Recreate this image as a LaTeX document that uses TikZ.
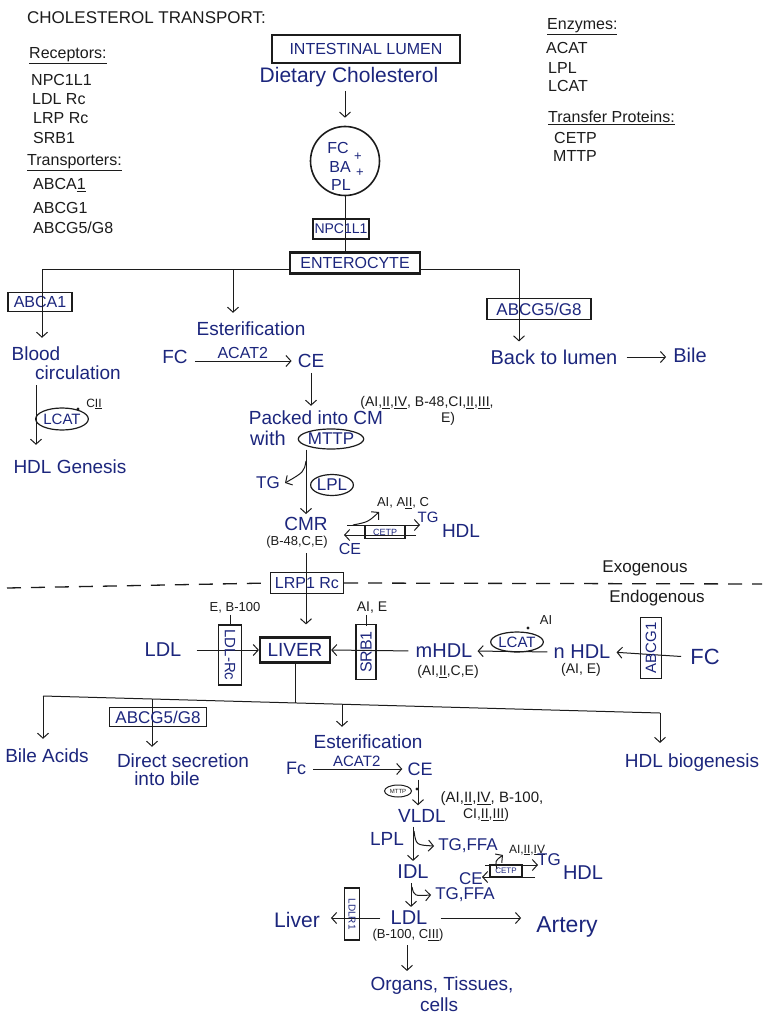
\documentclass[tikz,border=0pt]{standalone}
\usepackage{fontspec}
\setmainfont{Liberation Sans}
\usetikzlibrary{arrows.meta,shapes.geometric,calc}
\definecolor{ink}{RGB}{28,38,125}
\definecolor{pen}{RGB}{28,28,28}
\newcommand\myfs[1]{\fontsize{#1}{#1}\selectfont}
\newcommand\rn[1]{\underline{#1}}
\tikzset{
 bl/.style={text=ink, font=\myfs{19}, inner sep=1pt},
 bk/.style={text=pen, font=\myfs{15}, inner sep=1pt},
 sm/.style={text=pen, font=\myfs{13}, inner sep=1pt},
 lg/.style={text=pen, font=\myfs{16}, inner sep=1pt, anchor=west},
 bx/.style={rectangle, draw=pen, line width=1.1pt, text=ink, font=\myfs{15}, inner sep=1pt},
 tbx/.style={bx, line width=2.2pt},
 el/.style={ellipse, draw=pen, line width=1.2pt, text=ink, font=\myfs{15}, inner sep=0pt},
 ln/.style={draw=pen, line width=1pt},
 ar/.style={ln, -{Straight Barb[length=5pt,width=11pt]}},
 dashln/.style={draw=pen, line width=1.3pt, dash pattern=on 14pt off 10pt},
}
\begin{document}
\begin{tikzpicture}[x=1pt,y=-1pt]
\fill[white] (0,0) rectangle (768,1024);
\useasboundingbox (0,0) rectangle (768,1024);

% ---------- legend ----------
\node[lg, font=\myfs{17}] (title) at (26,18) {CHOLESTEROL TRANSPORT:};
\node[lg] (rec) at (28,56) {\underline{Receptors:}};
\node[lg] (r1) at (30,80) {NPC1L1};
\node[lg] (r2) at (31,99) {LDL Rc};
\node[lg] (r3) at (32,118) {LRP Rc};
\node[lg] (r4) at (32,138) {SRB1};
\node[lg] (tr) at (26,163) {\underline{Transporters:}};
\node[lg] (t1) at (32,185) {ABCA\underline{1}};
\node[lg] (t2) at (32,208) {ABCG1};
\node[lg] (t3) at (32,228) {ABCG5/G8};
\node[lg] (enz) at (546,27) {\underline{Enzymes:}};
\node[lg] (e1) at (545,48) {ACAT};
\node[lg] (e2) at (547,68) {LPL};
\node[lg] (e3) at (547,86) {LCAT};
\node[lg] (tp) at (547,118) {\underline{Transfer Proteins:}};
\node[lg] (p1) at (553,138) {CETP};
\node[lg] (p2) at (552,156) {MTTP};

% ---------- intestine ----------
\node[tbx, minimum width=188pt, minimum height=28pt, font=\myfs{16}] (lumen) at (366,49) {INTESTINAL LUMEN};
\node[bl, font=\myfs{21}] (diet) at (349,77) {Dietary Cholesterol};
\node[circle, draw=pen, line width=1.6pt, minimum size=69pt, inner sep=0pt] (bolus) at (345,161) {};
\node[bl, font=\myfs{16}] (fc0) at (338,148) {FC};
\node[bl, font=\myfs{16}] (ba0) at (340,167) {BA};
\node[bl, font=\myfs{16}] (pl0) at (341,185) {PL};
\node[bl, font=\myfs{13}] (plus1) at (358,157) {+};
\node[bl, font=\myfs{13}] (plus2) at (360,173) {+};
\node[tbx, minimum width=130pt, minimum height=21pt, font=\myfs{16}] (ent) at (355,263) {ENTEROCYTE};
\coordinate (bL) at (42,269);
\coordinate (bM) at (233,269);
\coordinate (bR) at (519,269);

\draw[ar, shorten <=3pt, shorten >=8pt] (diet.south -| bolus.north) -- (bolus.north);
\draw[ln] (bolus.south) -- (bolus.south |- ent.north);
\node[bx, minimum width=56pt, minimum height=20pt, font=\myfs{14}] (npc) at (341,229) {NPC1L1};
\draw[ln] (ent.west |- bL) -- (bL);
\draw[ln] (ent.east |- bR) -- (bR);

% ---------- left branch ----------
\node[bl] (blood) at (36,354) {Blood};
\node[bl] (circul) at (78,373) {circulation};
\node[bx, minimum width=64pt, minimum height=19pt, font=\myfs{16}] (abca1) at (40,302) {ABCA1};
\draw[ar, shorten >=8pt] (bL) -- (bL |- blood.north);
\node[bl] (hdlg) at (70,467) {HDL Genesis};
\node[el, minimum width=49pt, minimum height=22pt] (lcat1) at (62,419) {LCAT};
\node[sm, font=\myfs{12}] (cii) at (94,404) {C\rn{II}};
\fill[pen] (78,409) circle (1.7pt);
\draw[ar, shorten <=4pt, shorten >=14pt] (blood.south |- circul.south) -- (blood.south |- hdlg.north);

% ---------- right branch (enterocyte) ----------
\node[bx, minimum width=104pt, minimum height=21pt, font=\myfs{17}] (abcg58a) at (539,309) {ABCG5/G8};
\node[bl, font=\myfs{20}] (back) at (554,357) {Back to lumen};
\draw[ar, shorten >=7pt] (bR) -- (bR |- back.north);
\node[bl, font=\myfs{20}] (bile1) at (690,355) {Bile};
\draw[ar, shorten <=8pt, shorten >=6pt] (back.east) -- (bile1.west |- back.east);

% ---------- middle branch ----------
\node[bl] (est1) at (251,329) {Esterification};
\draw[ar, shorten >=8pt] (bM) -- (bM |- est1.north);
\node[bl] (fc1) at (175,357) {FC};
\node[bl] (ce1) at (311,361) {CE};
\draw[ar, shorten <=6pt, shorten >=5pt] (fc1.east |- ce1.west) -- (ce1.west)
  node[midway, above, bl, font=\myfs{16}, inner sep=2pt] (acat2a) {ACAT2};
\node[bl, font=\myfs{19}] (pk) at (316,418) {Packed into CM};
\draw[ar, shorten <=4pt, shorten >=4pt] (ce1.south) -- (ce1.south |- pk.north);
\node[bl, font=\myfs{20}] (with) at (268,438) {with};
\node[el, minimum width=62pt, minimum height=20pt, font=\myfs{17}] (mttp1) at (331,439) {MTTP};
\node[sm, font=\myfs{14}] (apo1) at (427,403) {(AI,\rn{II},\rn{IV}, B-48,CI,\rn{II},\rn{III},};
\node[sm, font=\myfs{14}] (apo1b) at (448,419) {E)};

\node[bl] (cmr) at (306,524) {CMR};
\node[sm] (cmrapo) at (297,542) {(B-48,C,E)};
\draw[ar, shorten >=2pt] (mttp1.south -| cmr.north) -- (cmr.north);
\node[bl, font=\myfs{17}] (tg1) at (268,483) {TG};
\coordinate (tgb) at (306,461);
\draw[ar] (tgb) .. controls (304,472) .. ([xshift=4pt]tg1.east);
\node[el, minimum width=38pt, minimum height=21pt, font=\myfs{17}] (lpl1) at (332,485) {LPL};

% CETP exchange (chylomicron remnant)
\node[bx, minimum width=40pt, minimum height=13pt, font=\myfs{9}] (cetp1) at (385,532) {CETP};
\coordinate (c1ta) at (347,525);
\coordinate (c1tb) at (420,525);
\coordinate (c1ba) at (416,535);
\coordinate (c1bb) at (344,535);
\coordinate (c1up) at (379,512);
\draw[ar] (c1ta) -- (c1tb);
\draw[ar] (c1ba) -- (c1bb);
\draw[ar] (353,525) .. controls (368,522) .. (c1up);
\node[sm] (aac) at (403,503) {AI, A\rn{II}, C};
\node[bl, font=\myfs{15}] (tg2) at (428,517) {TG};
\node[bl, font=\myfs{16}] (ce2) at (350,549) {CE};
\node[bl] (hdl1) at (461,531) {HDL};

% ---------- exogenous / endogenous divide ----------
\node[bx, minimum width=73pt, minimum height=21pt, font=\myfs{16}] (lrp) at (307,583) {LRP1 Rc};
\draw[dashln] (7,588) -- (lrp.west);
\draw[dashln] (lrp.east) -- (762,584);
\node[bk, font=\myfs{17}] (exo) at (645,568) {Exogenous};
\node[bk, font=\myfs{17}] (endo) at (657,598) {Endogenous};

% ---------- liver ----------
\node[tbx, minimum width=70pt, minimum height=25pt, font=\myfs{19}] (liver) at (295,650) {LIVER};
\draw[ar, shorten <=4pt, shorten >=12pt] (cmrapo.south -| cmr.north) -- (cmr.north |- liver.north);

\node[bl, font=\myfs{20}] (ldl1) at (163,650) {LDL};
\draw[ar, shorten <=14pt] (ldl1.east) -- (liver.west);
\node[bx, rotate=-90, minimum width=60pt, minimum height=23pt, font=\myfs{15}] (ldlrc) at (230,655) {LDL-Rc};
\node[sm] (eb) at (235,608) {E, B-100};
\draw[ln, line width=0.8pt] (eb.south -| ldlrc.center) -- ++(0,11);

\node[bl, font=\myfs{20}] (mhdl) at (444,651) {mHDL};
\node[sm, font=\myfs{14}] (mhdlapo) at (448,672) {(AI,\rn{II},C,E)};
\draw[ar, shorten <=6pt] (mhdl.west) -- (liver.east);
\node[bx, rotate=90, minimum width=55pt, minimum height=20pt, font=\myfs{16}] (srb1) at (366,652) {SRB1};
\node[sm, font=\myfs{14}] (aie) at (372,608) {AI, E};
\draw[ln, line width=0.8pt] (aie.south -| srb1.center) -- ++(0,11);

\node[bl, font=\myfs{20}] (nhdl) at (582,652) {n HDL};
\node[sm, font=\myfs{14}] (nhdlapo) at (581,670) {(AI, E)};
\draw[ar, shorten <=5pt, shorten >=4pt] (nhdl.west) -- (mhdl.east);
\node[el, minimum width=48pt, minimum height=20pt, font=\myfs{15}] (lcat2) at (517,642) {LCAT};
\fill[pen] (528,628) circle (1.7pt);
\node[sm] (ai2) at (546,620) {AI};

\node[bl, font=\myfs{22}] (fc3) at (705,657) {FC};
\draw[ar, shorten <=8pt, shorten >=5pt] (fc3.west) -- (nhdl.east);
\node[bx, rotate=90, minimum width=61pt, minimum height=21pt, font=\myfs{15}] (abcg1) at (651,648) {ABCG1};

% ---------- hepatic branches ----------
\coordinate (hL) at (43,696);
\coordinate (hR) at (660,713);
\coordinate (h2) at (152,699);
\coordinate (h3) at (342,704);
\draw[ln] (liver.south) -- (liver.south |- 0,703);
\draw[ln] (hL) -- (hR);

\node[bl, font=\myfs{19}] (bile) at (47,756) {Bile Acids};
\draw[ar, shorten >=9pt] (hL) -- (hL |- bile.north);

\node[bl, font=\myfs{19}] (ds) at (183,761) {Direct secretion};
\node[bl, font=\myfs{19}] (ib) at (167,779) {into bile};
\draw[ar, shorten >=6pt] (h2) -- (h2 |- ds.north);
\node[bx, minimum width=97pt, minimum height=19pt, font=\myfs{17}] (abcg58b) at (158,717) {ABCG5/G8};

\node[bl] (est2) at (368,742) {Esterification};
\draw[ar, shorten >=7pt] (h3) -- (h3 |- est2.north);

\node[bl] (hdlb) at (692,763) {HDL biogenesis};
\draw[ar, shorten >=10pt] (hR) -- (hR |- hdlb.north);

% ---------- VLDL pathway ----------
\node[bl, font=\myfs{18}] (fc4) at (296,768) {Fc};
\node[bl, font=\myfs{18}] (ce3) at (420,769) {CE};
\draw[ar, shorten <=6pt, shorten >=4pt] (fc4.east |- ce3.west) -- (ce3.west)
  node[midway, above, bl, font=\myfs{15}, inner sep=2pt] (acat2b) {ACAT2};

\node[bl] (vldl) at (422,816) {VLDL};
\draw[ar, shorten <=3pt, shorten >=3pt] (ce3.south -| 418,0) -- (vldl.north -| 418,0);
\node[ellipse, draw=pen, line width=1pt, text=pen, font=\myfs{6}, inner sep=0pt, minimum width=27pt, minimum height=12pt] (mttp2) at (398,791) {MTTP};
\fill[pen] (417,789) circle (1.7pt);
\node[sm, font=\myfs{15}] (apo2) at (492,799) {(AI,\rn{II},\rn{IV}, B-100,};
\node[sm, font=\myfs{14}] (apo2b) at (486,815) {CI,\rn{II},\rn{III})};

\node[bl] (lpl2) at (387,839) {LPL};
\node[bl, font=\myfs{20}] (idl) at (413,872) {IDL};
\draw[ar, shorten <=3pt, shorten >=3pt] (vldl.south -| idl.north) -- (idl.north);
\node[bl, font=\myfs{17}] (tgffa1) at (468,846) {TG,FFA};
\draw[ar] (414,831) .. controls (416,845) .. ([xshift=-3pt]tgffa1.west);

% CETP exchange (IDL)
\node[bx, minimum width=32pt, minimum height=12pt, font=\myfs{8}] (cetp2) at (506,871) {CETP};
\coordinate (c2ta) at (485,865);
\coordinate (c2tb) at (538,865);
\coordinate (c2ba) at (535,877);
\coordinate (c2bb) at (482,877);
\coordinate (c2up) at (503,855);
\draw[ar] (c2ta) -- (c2tb);
\draw[ar] (c2ba) -- (c2bb);
\draw[ar] (497,869) .. controls (495,861) .. (c2up);
\node[sm, font=\myfs{12}] (aai) at (527,850) {AI,\rn{II},\rn{IV}};
\node[bl, font=\myfs{17}] (tg3) at (549,860) {TG};
\node[bl, font=\myfs{17}] (ce4) at (471,879) {CE};
\node[bl, font=\myfs{20}] (hdl2) at (583,873) {HDL};

\node[bl, font=\myfs{20}] (ldl2) at (409,918) {LDL};
\node[sm] (ldl2apo) at (408,935) {(B-100, C\rn{III})};
\draw[ar, shorten <=3pt, shorten >=3pt] (idl.south -| 411,0) -- (ldl2.north -| 411,0);
\node[bl, font=\myfs{17}] (tgffa2) at (465,895) {TG,FFA};
\draw[ar] (412,887) .. controls (414,896) .. ([xshift=-3pt]tgffa2.west);

\node[bl, font=\myfs{21}] (liver2) at (297,920) {Liver};
\draw[ar, shorten <=9pt, shorten >=10pt] (ldl2.west) -- (liver2.east |- ldl2.west);
\node[bx, rotate=-90, minimum width=52pt, minimum height=15pt, font=\myfs{10}] (ldlr1) at (352,914) {LDLR1};

\node[bl, font=\myfs{23}] (artery) at (567,927) {Artery};
\draw[ar, shorten <=12pt, shorten >=14pt] (ldl2.east) -- (artery.west |- ldl2.east);

\node[bl, font=\myfs{19}] (org) at (442,986) {Organs, Tissues,};
\node[bl, font=\myfs{19}] (cells) at (439,1005) {cells};
\draw[ar, shorten <=3pt, shorten >=5pt] (ldl2apo.south -| 407,0) -- (org.north -| 407,0);
\end{tikzpicture}
\end{document}
